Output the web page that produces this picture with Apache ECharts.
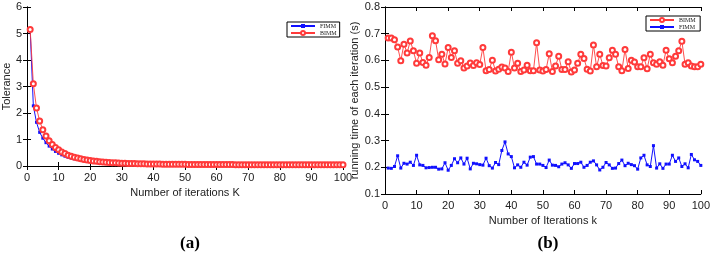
<!DOCTYPE html>
<html>
<head>
<meta charset="utf-8">
<script src="https://cdn.jsdelivr.net/npm/echarts@6/dist/echarts.min.js"></script>
<style>html,body{margin:0;padding:0;background:#fff}#c{width:713px;height:253px}</style>
</head>
<body>
<div id="c"></div>
<script>
// ---- data ----
const iterations = Array.from({length: 100}, (_, i) => i + 1);
const tolFIMM = [5.15,2.27,1.65,1.27,1.05,0.88,0.75,0.64,0.55,0.48,
  0.42,0.37,0.33,0.30,0.27,0.245,0.225,0.205,0.19,0.175,
  0.163,0.152,0.142,0.133,0.125,0.118,0.112,0.106,0.101,0.096,
  0.092,0.088,0.085,0.082,0.079,0.076,0.074,0.072,0.070,0.068,
  0.066,0.064,0.063,0.061,0.060,0.058,0.057,0.056,0.055,0.054,
  0.053,0.052,0.051,0.050,0.049,0.048,0.048,0.047,0.046,0.045,
  0.045,0.044,0.044,0.043,0.042,0.042,0.041,0.041,0.040,0.040,
  0.039,0.039,0.038,0.038,0.038,0.037,0.037,0.036,0.036,0.036,
  0.035,0.035,0.035,0.034,0.034,0.034,0.033,0.033,0.033,0.033,
  0.032,0.032,0.032,0.032,0.031,0.031,0.031,0.031,0.030,0.030];
const tolBIMM = [5.15,3.10,2.19,1.70,1.37,1.13,0.95,0.81,0.70,0.61,
  0.53,0.47,0.41,0.37,0.33,0.30,0.27,0.245,0.225,0.205,
  0.19,0.176,0.164,0.153,0.143,0.135,0.127,0.120,0.114,0.108,
  0.103,0.099,0.095,0.091,0.088,0.085,0.082,0.080,0.078,0.076,
  0.074,0.072,0.070,0.069,0.067,0.066,0.065,0.064,0.063,0.062,
  0.061,0.060,0.059,0.058,0.058,0.057,0.056,0.056,0.055,0.054,
  0.054,0.053,0.053,0.052,0.052,0.051,0.051,0.050,0.050,0.050,
  0.049,0.049,0.049,0.048,0.048,0.048,0.047,0.047,0.047,0.047,
  0.046,0.046,0.046,0.046,0.045,0.045,0.045,0.045,0.045,0.044,
  0.044,0.044,0.044,0.044,0.043,0.043,0.043,0.043,0.043,0.043];
const timeBIMM = [0.684,0.684,0.677,0.650,0.599,0.661,0.628,0.673,0.636,0.589,
  0.628,0.592,0.582,0.611,0.692,0.674,0.603,0.623,0.587,0.648,
  0.611,0.636,0.589,0.599,0.572,0.579,0.590,0.581,0.591,0.585,
  0.648,0.561,0.566,0.601,0.560,0.567,0.575,0.572,0.559,0.631,
  0.572,0.589,0.559,0.564,0.582,0.561,0.561,0.666,0.564,0.560,
  0.566,0.625,0.559,0.579,0.616,0.566,0.566,0.595,0.557,0.564,
  0.589,0.623,0.607,0.567,0.560,0.658,0.576,0.623,0.581,0.579,
  0.610,0.638,0.623,0.576,0.561,0.641,0.570,0.601,0.594,0.576,
  0.576,0.610,0.569,0.623,0.591,0.586,0.595,0.582,0.638,0.606,
  0.591,0.616,0.636,0.672,0.586,0.591,0.579,0.576,0.576,0.586];
const timeFIMM = [0.197,0.196,0.203,0.243,0.197,0.215,0.212,0.219,0.207,0.245,
  0.209,0.207,0.198,0.199,0.200,0.200,0.193,0.194,0.217,0.189,
  0.207,0.232,0.217,0.235,0.212,0.234,0.194,0.215,0.213,0.210,
  0.208,0.234,0.206,0.197,0.218,0.210,0.263,0.295,0.250,0.240,
  0.198,0.209,0.200,0.219,0.208,0.238,0.240,0.212,0.212,0.207,
  0.199,0.227,0.208,0.207,0.202,0.212,0.217,0.209,0.196,0.214,
  0.214,0.219,0.200,0.207,0.219,0.224,0.209,0.190,0.200,0.218,
  0.209,0.196,0.197,0.214,0.227,0.206,0.215,0.210,0.206,0.193,
  0.235,0.245,0.209,0.203,0.281,0.197,0.213,0.196,0.212,0.212,
  0.245,0.222,0.235,0.203,0.213,0.198,0.248,0.228,0.222,0.207];

const pairs = ys => iterations.map((k, i) => [k, ys[i]]);
const FONT = 'Liberation Sans';
const lbl = {fontFamily: FONT, fontSize: 11, color: '#222'};
const tickIn = {show: true, inside: true, length: 4, lineStyle: {color: '#000'}};
const axLine = {show: true, lineStyle: {color: '#000', width: 1}};

function xAxes(gi, name, gap) {
  return [
    {gridIndex: gi, type: 'value', min: 0, max: 100, interval: 10, position: 'bottom',
     axisLine: axLine, axisTick: tickIn, splitLine: {show: false},
     axisLabel: Object.assign({margin: 6}, lbl),
     name: name, nameLocation: 'middle', nameGap: gap, nameTextStyle: lbl},
    {gridIndex: gi, type: 'value', min: 0, max: 100, interval: 10, position: 'top',
     axisLine: axLine, axisTick: tickIn, splitLine: {show: false}, axisLabel: {show: false}}
  ];
}
function yAxes(gi, min, max, iv, name, gap, fmt) {
  return [
    {gridIndex: gi, type: 'value', min: min, max: max, interval: iv, position: 'left',
     axisLine: axLine, axisTick: tickIn, splitLine: {show: false},
     axisLabel: Object.assign({margin: 5, formatter: fmt}, lbl),
     name: name, nameLocation: 'middle', nameGap: gap, nameTextStyle: lbl},
    {gridIndex: gi, type: 'value', min: min, max: max, interval: iv, position: 'right',
     axisLine: axLine, axisTick: tickIn, splitLine: {show: false}, axisLabel: {show: false}}
  ];
}

const BLUE = '#1010ff', RED = '#ff3a3a';
const blueS = (name, data, xi, yi) => ({
  name: name, type: 'line', xAxisIndex: xi, yAxisIndex: yi, data: data,
  symbol: 'rect', symbolSize: 3, showSymbol: true,
  itemStyle: {color: BLUE}, lineStyle: {color: BLUE, width: 1}, animation: false
});
const redS = (name, data, xi, yi) => ({
  name: name, type: 'line', xAxisIndex: xi, yAxisIndex: yi, data: data,
  symbol: 'emptyCircle', symbolSize: 5, showSymbol: true,
  itemStyle: {color: RED, borderColor: RED, borderWidth: 0.9},
  lineStyle: {color: RED, width: 0.9}, animation: false
});

const legendBase = {
  orient: 'vertical', borderColor: '#000', borderWidth: 1, backgroundColor: '#fff',
  padding: [1, 3, 1, 3], itemGap: 1, itemWidth: 24, itemHeight: 5,
  textStyle: {fontFamily: 'Liberation Serif', fontSize: 6, color: '#222'}
};

const chart = echarts.init(document.getElementById('c'), null, {renderer: 'canvas'});
chart.setOption({
  animation: false,
  backgroundColor: '#fff',
  grid: [
    {left: 25, right: 370, top: 7, bottom: 87, show: false},
    {left: 385, right: 9, top: 7, bottom: 59, show: false}
  ],
  xAxis: [].concat(xAxes(0, 'Number of iterations K', 20), xAxes(1, 'Number of Iterations k', 20)),
  yAxis: [].concat(
    yAxes(0, 0, 6, 1, 'Tolerance', 14, v => String(v)),
    yAxes(1, 0.1, 0.8, 0.1, 'running time of each iteration (s)', 24, v => v.toFixed(1))
  ),
  legend: [
    Object.assign({}, legendBase, {data: ['FIMM', 'BIMM'], left: 287, top: 22}),
    Object.assign({}, legendBase, {data: ['BIMM ', 'FIMM '], left: 646, top: 16})
  ],
  title: [
    {text: '(a)', left: 185, top: 230, textAlign: 'center',
     textStyle: {fontFamily: 'Liberation Serif', fontWeight: 'bold', fontSize: 17, color: '#000'}},
    {text: '(b)', left: 543, top: 230, textAlign: 'center',
     textStyle: {fontFamily: 'Liberation Serif', fontWeight: 'bold', fontSize: 17, color: '#000'}}
  ],
  series: [
    blueS('FIMM', pairs(tolFIMM), 0, 0),
    redS('BIMM', pairs(tolBIMM), 0, 0),
    redS('BIMM ', pairs(timeBIMM), 2, 2),
    blueS('FIMM ', pairs(timeFIMM), 2, 2)
  ]
});
</script>
</body>
</html>
